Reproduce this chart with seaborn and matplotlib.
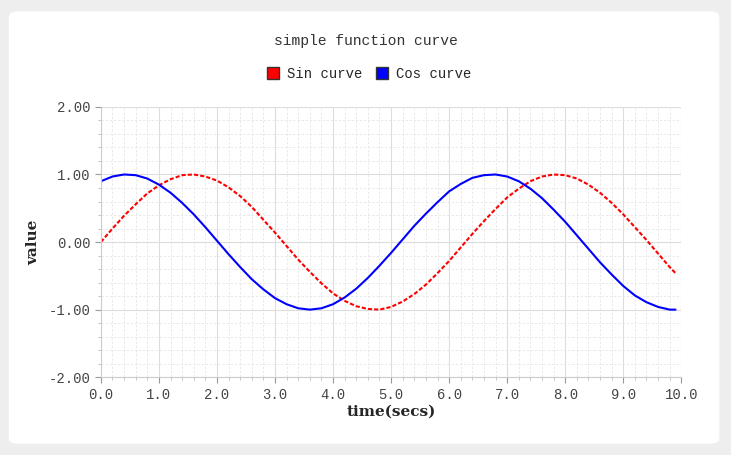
import matplotlib
matplotlib.use("Agg")
import matplotlib.pyplot as plt
import seaborn as sns
import pandas as pd
from matplotlib.patches import FancyBboxPatch
from matplotlib.ticker import MultipleLocator, FormatStrFormatter
from matplotlib.lines import Line2D

x_vals = [0.0,0.2,0.4,0.6,0.8,1.0,1.2,1.4,1.6,1.8,2.0,2.2,2.4,2.6,2.8,3.0,3.2,3.4,3.6,3.8,4.0,4.2,4.4,4.6,4.8,5.0,5.2,5.4,5.6,5.8,6.0,6.2,6.4,6.6,6.8,7.0,7.2,7.4,7.6,7.8,8.0,8.2,8.4,8.6,8.8,9.0,9.2,9.4,9.6,9.8,9.9]
sin_vals = [0.00,0.20,0.39,0.56,0.72,0.84,0.93,0.99,1.00,0.97,0.91,0.81,0.68,0.52,0.33,0.14,-0.06,-0.26,-0.44,-0.61,-0.76,-0.87,-0.95,-0.99,-1.00,-0.96,-0.88,-0.77,-0.63,-0.46,-0.28,-0.08,0.12,0.31,0.49,0.66,0.79,0.90,0.97,1.00,0.99,0.94,0.85,0.73,0.58,0.41,0.22,0.03,-0.17,-0.37,-0.46]
cos_vals = [0.90,0.97,1.00,0.99,0.94,0.85,0.73,0.58,0.41,0.22,0.02,-0.18,-0.37,-0.55,-0.70,-0.83,-0.92,-0.98,-1.00,-0.98,-0.92,-0.82,-0.69,-0.53,-0.35,-0.16,0.04,0.24,0.42,0.59,0.75,0.86,0.95,0.99,1.00,0.97,0.90,0.79,0.65,0.48,0.30,0.10,-0.10,-0.30,-0.48,-0.65,-0.79,-0.89,-0.96,-1.00,-1.00]
series_names = ["Sin curve", "Cos curve"]

sns.set_style("white")
plt.rcParams['font.family'] = ['Liberation Mono', 'DejaVu Sans Mono']

fig = plt.figure(figsize=(7.31, 4.55), dpi=100)
fig.patch.set_facecolor("#eeeeee")
bg = FancyBboxPatch((0.012, 0.025), 0.972, 0.95, boxstyle="round,pad=0,rounding_size=0.012",
                    transform=fig.transFigure, facecolor="white", edgecolor="none", zorder=-10)
fig.patches.append(bg)
ax = fig.add_axes([0.138, 0.171, 0.794, 0.594])
ax.set_zorder(5)
ax.set_facecolor("white")

df = pd.DataFrame({"x": x_vals * 2, "y": sin_vals + cos_vals,
                   "s": [series_names[0]] * len(x_vals) + [series_names[1]] * len(x_vals)})
sns.lineplot(data=df, x="x", y="y", hue="s", style="s", palette=["red", "blue"],
             dashes=[(2, 1), ""], linewidth=1.5, ax=ax, legend=False)

ax.set_xlim(0, 10)
ax.set_ylim(-2, 2)
ax.xaxis.set_major_locator(MultipleLocator(1))
ax.xaxis.set_minor_locator(MultipleLocator(0.2))
ax.yaxis.set_major_locator(MultipleLocator(1))
ax.yaxis.set_minor_locator(MultipleLocator(0.2))
ax.xaxis.set_major_formatter(FormatStrFormatter("%.1f"))
ax.yaxis.set_major_formatter(FormatStrFormatter("%.2f"))
ax.grid(which="major", color="#dddddd", linewidth=0.8)
ax.grid(which="minor", color="#e6e6e6", linewidth=0.6, linestyle=(0, (3, 2)))
ax.set_axisbelow(True)
for s in ["top", "right"]:
    ax.spines[s].set_visible(False)
for s in ["left", "bottom"]:
    ax.spines[s].set_color("#cccccc")
ax.tick_params(axis="both", which="major", length=4, color="#999999", labelsize=10, labelcolor="#444444")
ax.tick_params(axis="both", which="minor", length=2, color="#bbbbbb")
ax.tick_params(bottom=True, left=True, which="both")
ax.set_xlabel("time(secs)", fontsize=11, fontweight="bold", family="DejaVu Serif", labelpad=2)
ax.set_ylabel("value", fontsize=11, fontweight="bold", family="DejaVu Serif", labelpad=6)

fig.text(0.5, 0.91, "simple function curve", ha="center", va="center", fontsize=10.5, color="#333333")
handles = [Line2D([], [], marker="s", color="none", markerfacecolor=c, markeredgecolor="#333333",
                  markersize=8) for c in ["red", "blue"]]
fig.legend(handles, series_names, loc="center", bbox_to_anchor=(0.5, 0.838), ncol=2, frameon=False,
           handletextpad=0.0, columnspacing=0.4, fontsize=10)
fig.savefig("out.png", dpi=100, facecolor=fig.get_facecolor())
